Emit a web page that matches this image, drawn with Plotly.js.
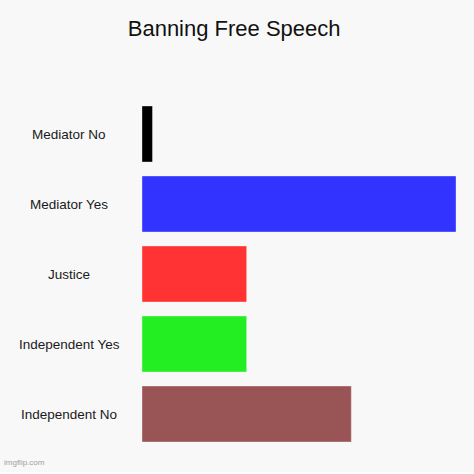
<!DOCTYPE html>
<html>
<head>
<meta charset="utf-8">
<script src="https://cdn.plot.ly/plotly-3.0.1.min.js"></script>
<style>
html,body{margin:0;padding:0;background:#ffffff;}
#chart{width:474px;height:472px;}
</style>
</head>
<body>
<div id="chart"></div>
<script>
const categories = ["Mediator No", "Mediator Yes", "Justice", "Independent Yes", "Independent No"];
const values = [1, 30, 10, 10, 20];
const colors = ["#000000", "#3333ff", "#ff3333", "#22ee22", "#995555"];
const titleText = "Banning Free Speech";

const trace = {
  type: "bar",
  orientation: "h",
  y: categories,
  x: values,
  marker: {color: colors, line: {color: "rgba(255,255,255,0.35)", width: 1}},
  hoverinfo: "none"
};

const annotations = categories.map(c => ({
  xref: "paper", yref: "y",
  x: -0.232, y: c,
  text: c, showarrow: false,
  xanchor: "center", yanchor: "middle",
  font: {family: "Liberation Sans, Arial, sans-serif", size: 13.5, color: "#1a1a1a"}
}));
annotations.push({
  xref: "paper", yref: "paper",
  x: -0.445, y: -0.058,
  xanchor: "left", yanchor: "bottom",
  text: "imgflip.com", showarrow: false,
  font: {family: "Liberation Sans, Arial, sans-serif", size: 8, color: "#a0a0a0"}
});

const layout = {
  width: 474, height: 472,
  margin: {l: 142, r: 18, t: 99, b: 23},
  paper_bgcolor: "#f8f8f8",
  plot_bgcolor: "#f8f8f8",
  title: {
    text: titleText,
    x: 0.494, xanchor: "center",
    y: 0.94, yanchor: "middle",
    font: {family: "Liberation Sans, Arial, sans-serif", size: 22, color: "#111111"}
  },
  xaxis: {range: [0, 30], visible: false, fixedrange: true},
  yaxis: {
    type: "category", autorange: "reversed",
    showticklabels: false, showgrid: false, zeroline: false, showline: false, ticks: ""
  },
  bargap: 0.2,
  showlegend: false,
  annotations: annotations
};

Plotly.newPlot("chart", [trace], layout, {staticPlot: true, displayModeBar: false});
</script>
</body>
</html>
